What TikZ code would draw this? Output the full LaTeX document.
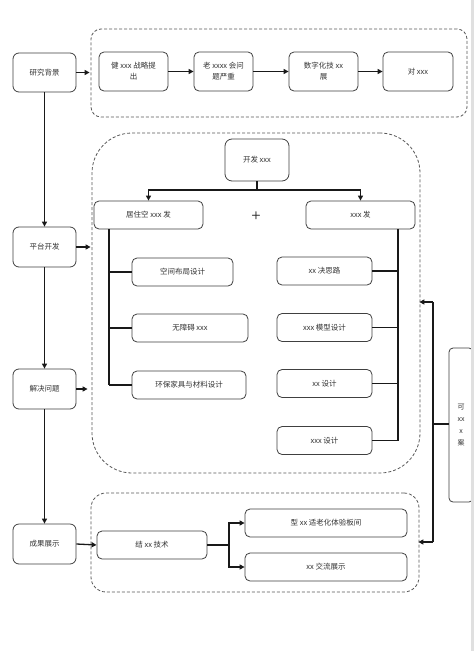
\documentclass[tikz,border=0pt]{standalone}
\usepackage{fontspec}
\newfontfamily\cjk{Noto Sans CJK SC}
\usetikzlibrary{arrows.meta}
\begin{document}
\begin{tikzpicture}[x=1pt,y=-1pt,
  box/.style={draw=black!75, line width=0.8pt, rounded corners=5pt, align=center, inner sep=1pt,
    font=\cjk\fontsize{7.5}{11}\selectfont, text=black!80},
  cont/.style={draw=black!65, line width=0.8pt, dash pattern=on 3pt off 2pt},
  conn/.style={line width=1.3pt, draw=black!90},
  arr/.style={conn, -{Triangle[length=5pt,width=5pt]}}
]
\useasboundingbox (0,0) rectangle (474,651);
\fill[white] (0,0) rectangle (474,651);

% containers
\node[cont, rounded corners=10pt, minimum width=376pt, minimum height=88pt, inner sep=0pt] (c1) at (279,73) {};
\node[cont, rounded corners=40pt, minimum width=328pt, minimum height=340pt, inner sep=0pt] (c2) at (256,303) {};
\node[cont, rounded corners=15pt, minimum width=328pt, minimum height=99pt, inner sep=0pt] (c3) at (255,542.5) {};

% left column
\node[box, rounded corners=6pt, minimum width=63pt, minimum height=39pt] (rj) at (44.5,72.5) {研究背景};
\node[box, rounded corners=6pt, minimum width=63pt, minimum height=40pt] (pt) at (44.5,247) {平台开发};
\node[box, rounded corners=6pt, minimum width=63pt, minimum height=40pt] (jj) at (44.5,389) {解决问题};
\node[box, rounded corners=6pt, minimum width=63pt, minimum height=40pt] (cg) at (44.5,544) {成果展示};

\draw[arr] (rj) -- (pt);
\draw[arr] (pt) -- (jj);
\draw[arr] (jj) -- (cg);
\draw[arr] (rj.east) -- ([xshift=-1pt]rj.east -| c1.west);
\draw[arr] (pt.east) -- ([xshift=-1pt]pt.east -| c2.west);
\draw[arr] (jj.east) -- ([xshift=-4pt]jj.east -| c2.west);

% top row
\node[box, minimum width=69pt, minimum height=39pt] (b1) at (133.5,71.5) {健 xxx 战略提\\出};
\node[box, minimum width=59pt, minimum height=39pt] (b2) at (223.5,71.5) {老 xxxx 会问\\题严重};
\node[box, minimum width=69pt, minimum height=39pt] (b3) at (323.5,71.5) {数字化技 xx\\展};
\node[box, minimum width=70pt, minimum height=39pt] (b4) at (418,71.5) {对 xxx};
\draw[arr] (b1) -- (b2);
\draw[arr] (b2) -- (b3);
\draw[arr] (b3) -- (b4);

% middle
\node[box, rounded corners=7pt, minimum width=64pt, minimum height=42pt] (kf) at (257,160) {开发 xxx};
\node[box, minimum width=109pt, minimum height=28pt] (jz) at (148.5,215) {居住空 xxx 发};
\node[box, minimum width=109pt, minimum height=28pt] (xf) at (360.5,215) {xxx 发};
\node[font=\sffamily\bfseries\fontsize{11}{11}\selectfont, text=black!85] (plus) at (256,216) {+};
\coordinate (br) at (257,190);
\draw[conn] (kf.south) -- (br);
\draw[arr] (br) -| (jz.north);
\draw[arr] (br) -| (xf.north);

\node[box, minimum width=101pt, minimum height=28pt] (l1) at (182.5,272) {空间布局设计};
\node[box, minimum width=116pt, minimum height=28pt] (l2) at (190,328) {无障碍 xxx};
\node[box, minimum width=114pt, minimum height=28pt] (l3) at (189,385) {环保家具与材料设计};
\coordinate (lv) at (109,385);
\draw[conn] (jz.south -| lv) -- (lv);
\draw[conn] (l1.west) -- (l1.west -| lv);
\draw[conn] (l2.west) -- (l2.west -| lv);
\draw[conn] (l3.west) -- (lv);

\node[box, minimum width=95pt, minimum height=28pt] (r1) at (324.5,271) {xx 决思路};
\node[box, minimum width=95pt, minimum height=28pt] (r2) at (324.5,327.5) {xxx 模型设计};
\node[box, minimum width=95pt, minimum height=28pt] (r3) at (324.5,383.5) {xx 设计};
\node[box, minimum width=95pt, minimum height=28pt] (r4) at (324.5,440.5) {xxx 设计};
\coordinate (rv) at (398,440.5);
\draw[conn] (xf.south -| rv) -- (rv);
\draw[conn] (r1.east) -- (r1.east -| rv);
\draw[conn] (r2.east) -- (r2.east -| rv);
\draw[conn] (r3.east) -- (r3.east -| rv);
\draw[conn] (r4.east) -- (rv);

% feedback box
\node[box, rounded corners=4pt, minimum width=24pt, minimum height=154pt, font=\cjk\fontsize{7}{12}\selectfont] (kx) at (461,425) {可\\xx\\x\\案};
\coordinate (fv) at (433,424);
\coordinate (ft) at (433,302);
\coordinate (fb) at (433,542);
\draw[conn] (kx.west |- fv) -- (fv);
\draw[conn] (ft) -- (fb);
\draw[arr] (ft) -- ([xshift=-1pt]ft -| c2.east);
\draw[arr] (fb) -- ([xshift=-1pt]fb -| c3.east);

% bottom
\node[box, minimum width=110pt, minimum height=28pt] (jx) at (152,545) {结 xx 技术};
\node[box, minimum width=162pt, minimum height=28pt] (t1) at (326,523) {型 xx 适老化体验板间};
\node[box, minimum width=162pt, minimum height=28pt] (t2) at (326,567) {xx 交流展示};
\draw[arr] (cg.east) -- (jx.west);
\coordinate (bx) at (229,545);
\draw[conn] (jx.east) -- (bx);
\draw[arr] (bx) |- (t1.west);
\draw[arr] (bx) |- (t2.west);

% light strip at the right edge
\fill[black!12] (471,0) rectangle (474,651);
\end{tikzpicture}
\end{document}
